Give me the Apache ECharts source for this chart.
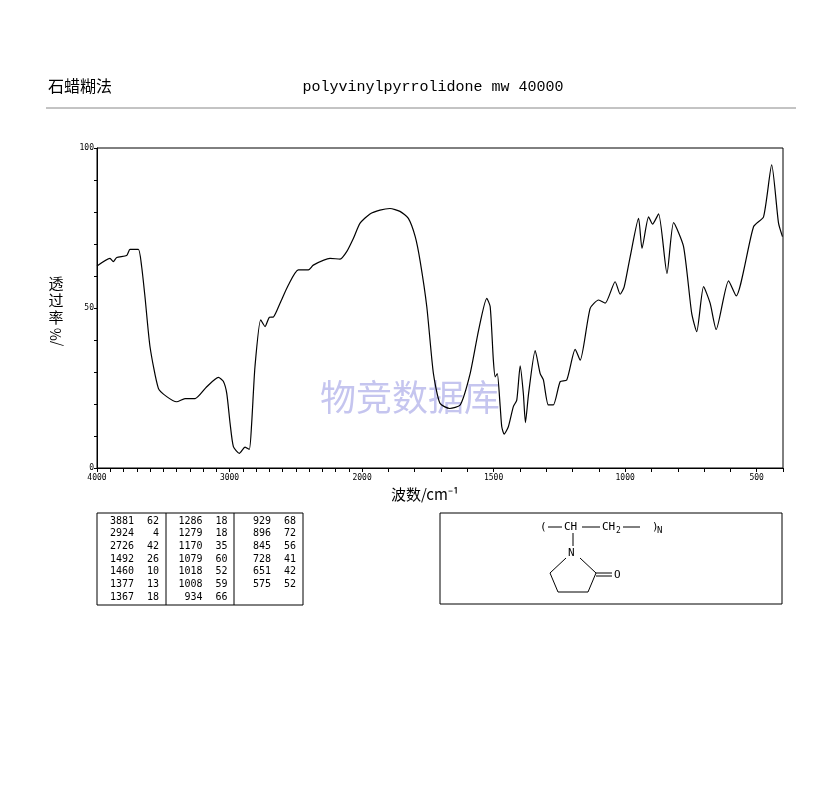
<!DOCTYPE html>
<html><head><meta charset="utf-8">
<script src="https://cdn.jsdelivr.net/npm/echarts@6/dist/echarts.min.js"></script>
<style>html,body{margin:0;padding:0;background:#fff}#c{width:822px;height:794px}</style>
</head><body><div id="c"></div>
<script>
const wavenumbers=[4000,3902,3877,3851,3776,3751,3688,3663,3638,3600,3537,3474,3399,3336,3260,3172,3084,3047,3021,2996,2971,2926,2883,2851,2833,2808,2765,2732,2699,2669,2619,2556,2481,2405,2368,2242,2166,2116,2065,2015,1970,1932,1894,1856,1824,1798,1779,1754,1729,1704,1667,1627,1589,1557,1526,1513,1501,1494,1486,1475,1469,1460,1444,1425,1412,1399,1387,1379,1367,1342,1323,1311,1292,1273,1247,1222,1190,1171,1133,1101,1076,1038,1019,1004,981,949,936,911,896,873,841,816,778,747,728,702,677,654,607,578,512,474,443,417,402];
const transmittance=[63.1,65.5,64.5,65.8,66.4,68.3,68.3,62.9,53.5,37.9,24.9,22.3,20.7,21.7,21.7,25.4,28.3,27.1,23.3,14.0,6.7,4.6,6.5,5.8,14,31.7,46.3,44.2,47.1,47.2,51.5,57.2,61.9,61.9,63.4,65.5,65.3,67.6,71.8,76.5,79.4,80.6,81.1,80.2,78,72.3,64.5,50.4,29.6,20.2,18.6,19.7,29.6,43.1,53,50.4,33.7,28.5,29.5,19.2,12.9,10.6,12.9,19.2,21.2,31.9,23.3,14.2,23.3,36.7,29.5,27.6,19.7,19.7,27,27.5,37.1,33.7,49.9,52.5,51.5,58.2,54.3,56.5,66,78,68.6,78.5,76.2,79.4,60.8,76.7,69.2,48.3,42.6,56.7,51.5,43.3,58.5,53.8,75.4,78.5,94.7,76.5,72.3];
const xTickLabels=[4000,3000,2000,1500,1000,500];
const yTickLabels=[0,50,100];
const peakTable=[["3881","62"],["2924","4"],["2726","42"],["1492","26"],["1460","10"],["1377","13"],["1367","18"],
["1286","18"],["1279","18"],["1170","35"],["1079","60"],["1018","52"],["1008","59"],["934","66"],
["929","68"],["896","72"],["845","56"],["728","41"],["651","42"],["575","52"]];

function tx(w){return w>=2000?(4000-w)*0.1325:265+(2000-w)*0.263;}
function inv(t){return t<=265?4000-t/0.1325:2000-(t-265)/0.263;}
const xMax=tx(400);
const minorW=[];for(let w=4000;w>=400;w-=100)minorW.push(tx(w));
const data=wavenumbers.map((w,i)=>[tx(w),transmittance[i]]);

const chart=echarts.init(document.getElementById('c'));
const mono='"DejaVu Sans Mono", monospace';
const g=[];
g.push({type:'text',left:48,top:78,style:{text:'石蜡糊法',font:'16px "Noto Sans CJK SC"',fill:'#000'}});
g.push({type:'text',x:433,y:87,style:{text:'polyvinylpyrrolidone mw 40000',font:'15px "Liberation Mono", monospace',fill:'#000',align:'center',verticalAlign:'middle'}});
g.push({type:'line',shape:{x1:46,y1:108,x2:796,y2:108},style:{stroke:'#888',lineWidth:1}});
g.push({type:'text',x:56,y:300,style:{text:'透\n过\n率',font:'15px "Noto Sans CJK SC"',fill:'#000',align:'center',verticalAlign:'middle',lineHeight:17}});
g.push({type:'text',x:56,y:337,rotation:Math.PI/2,style:{text:'/%',font:'14px "Noto Sans CJK SC"',fill:'#000',align:'center',verticalAlign:'middle'}});
g.push({type:'text',x:425,y:494,style:{text:'波数/cm⁻¹',font:'15px "Noto Sans CJK SC"',fill:'#000',align:'center',verticalAlign:'middle'}});
g.push({type:'text',x:410,y:397,z:-1,style:{text:'物竞数据库',font:'36px "Noto Sans CJK SC"',fill:'rgba(150,150,225,0.55)',align:'center',verticalAlign:'middle'}});
g.push({type:'rect',shape:{x:97,y:513,width:206,height:92},style:{fill:'none',stroke:'#000',lineWidth:1}});
g.push({type:'line',shape:{x1:166,y1:513,x2:166,y2:605},style:{stroke:'#000'}});
g.push({type:'line',shape:{x1:234,y1:513,x2:234,y2:605},style:{stroke:'#000'}});
peakTable.forEach((r,i)=>{const col=Math.floor(i/7),row=i%7;const x0=97+col*68.5;const y=521+row*12.7;
 g.push({type:'text',x:x0+37,y:y,style:{text:r[0],font:'10px '+mono,fill:'#000',align:'right',verticalAlign:'middle'}});
 g.push({type:'text',x:x0+62,y:y,style:{text:r[1],font:'10px '+mono,fill:'#000',align:'right',verticalAlign:'middle'}});});
g.push({type:'rect',shape:{x:440,y:513,width:342,height:91},style:{fill:'none',stroke:'#000',lineWidth:1}});
const st={font:'11px '+mono,fill:'#000',verticalAlign:'middle'};
g.push({type:'text',x:540,y:527,style:Object.assign({text:'('},st)});
g.push({type:'line',shape:{x1:548,y1:527,x2:562,y2:527},style:{stroke:'#000'}});
g.push({type:'text',x:564,y:527,style:Object.assign({text:'CH'},st)});
g.push({type:'line',shape:{x1:582,y1:527,x2:600,y2:527},style:{stroke:'#000'}});
g.push({type:'text',x:602,y:527,style:Object.assign({text:'CH'},st)});
g.push({type:'text',x:616,y:531,style:Object.assign({text:'2'},st,{font:'8px '+mono})});
g.push({type:'line',shape:{x1:623,y1:527,x2:640,y2:527},style:{stroke:'#000'}});
g.push({type:'text',x:652,y:527,style:Object.assign({text:')'},st)});
g.push({type:'text',x:657,y:531,style:Object.assign({text:'N'},st,{font:'9px '+mono})});
g.push({type:'line',shape:{x1:573,y1:533,x2:573,y2:546},style:{stroke:'#000'}});
g.push({type:'text',x:568,y:553,style:Object.assign({text:'N'},st)});
g.push({type:'polyline',shape:{points:[[566,558],[550,573],[558,592],[588,592],[596,573],[580,558]]},style:{stroke:'#000',fill:'none'}});
g.push({type:'line',shape:{x1:596,y1:573,x2:612,y2:573},style:{stroke:'#000'}});
g.push({type:'line',shape:{x1:596,y1:576,x2:612,y2:576},style:{stroke:'#000'}});
g.push({type:'text',x:614,y:575,style:Object.assign({text:'O'},st)});

chart.setOption({
 animation:false,
 grid:{left:97,right:39,top:148,bottom:326},
 xAxis:{type:'value',min:0,max:xMax,
  axisLine:{lineStyle:{color:'#000'}},
  axisTick:{customValues:minorW,length:4,lineStyle:{color:'#000'}},
  axisLabel:{customValues:xTickLabels.map(tx),formatter:v=>String(Math.round(inv(v))),fontSize:8,fontFamily:'DejaVu Sans Mono',color:'#000',margin:6},
  splitLine:{show:false}},
 yAxis:{type:'value',min:0,max:100,interval:10,
  axisLine:{show:true,lineStyle:{color:'#000'}},
  axisTick:{length:3,lineStyle:{color:'#000'}},
  axisLabel:{formatter:v=>yTickLabels.includes(v)?String(v):'',fontSize:8,fontFamily:'DejaVu Sans Mono',color:'#000',margin:3},
  splitLine:{show:false}},
 graphic:g.concat([{type:'rect',shape:{x:97,y:148,width:686,height:320},style:{fill:'none',stroke:'#000',lineWidth:1},silent:true}]),
 series:[{type:'line',data:data,showSymbol:false,lineStyle:{color:'#000',width:1.2},smooth:0.2}]
});
</script></body></html>
